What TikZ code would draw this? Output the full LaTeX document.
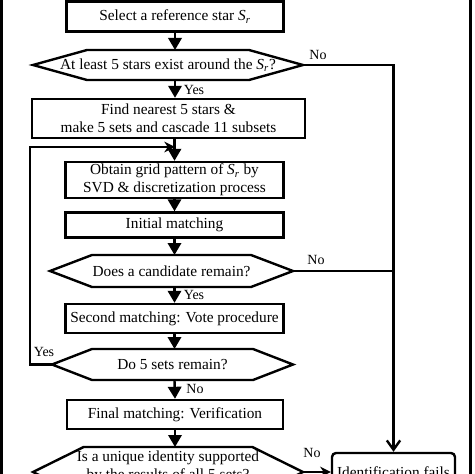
\documentclass[tikz,border=0pt]{standalone}
\usepackage{fontspec}
\setmainfont{Liberation Serif}
\usetikzlibrary{arrows.meta}
\newcommand{\Sr}{\textit{S}\textsubscript{\textit{r}}}
\newcommand{\hexframe}[2]{\draw[hexline] (#1.west) -- ([xshift=#2]#1.north west) -- ([xshift=-#2]#1.north east) -- (#1.east) -- ([xshift=-#2]#1.south east) -- ([xshift=#2]#1.south west) -- cycle}

\begin{document}
\begin{tikzpicture}[
        x=0.75pt, y=-0.75pt,
        every node/.style={font=\fontsize{11.5}{13.5}\selectfont},
        proc/.style={rectangle,draw=black,line width=1.8pt,align=center,inner sep=0pt},
        hexbox/.style={rectangle,inner sep=0pt,outer sep=0pt,align=center},
        hexline/.style={line width=1.8pt,line join=miter},
        flow/.style={line width=1.8pt,-{Triangle[width=10pt,length=9pt]}},
        back/.style={line width=1.8pt,-{Stealth[width=8pt,length=8pt]}},
        failarr/.style={line width=1.8pt,-{Straight Barb[width=10pt,length=7pt]}},
        lab/.style={inner sep=0pt,font=\fontsize{10.5}{12}\selectfont}
      ]
      \useasboundingbox (0,0) rectangle (474,474);
      \clip (0,0) rectangle (474,474);

      % Outer frame of the figure
      \draw[line width=2.2pt] (1.5,-10) rectangle (470.5,500);

      % Boxes and decisions of the main column, top to bottom
      \node(sel)[proc,minimum width=162.75pt,minimum height=22.5pt] at (175,16.5) {Select a reference star \Sr};
      \node(d1)[hexbox,minimum width=202.5pt,minimum height=22.5pt] at (168,65) {At least 5 stars exist around the \Sr?};
      \hexframe{d1}{40.5pt};
      \node(sets)[proc,minimum width=204.75pt,minimum height=29.25pt] at (168.5,118.5) {Find nearest 5 stars \&\\make 5 sets and cascade 11 subsets};
      \node(grid)[proc,minimum width=163.5pt,minimum height=27pt] at (174.5,180) {Obtain grid pattern of \Sr\ by\\SVD \& discretization process};
      \node(init)[proc,minimum width=163.5pt,minimum height=18.75pt] at (174.5,225) {Initial matching};
      \node(d2)[hexbox,minimum width=182.25pt,minimum height=24pt] at (171.5,271) {Does a candidate remain?};
      \hexframe{d2}{31.5pt};
      \node(vote)[proc,minimum width=163.5pt,minimum height=21.75pt] at (174.5,318.5) {Second matching: Vote procedure};
      \node(d3)[hexbox,minimum width=180.75pt,minimum height=23.25pt] at (172.5,364.5) {Do 5 sets remain?};
      \hexframe{d3}{30pt};
      \node(verif)[proc,minimum width=162pt,minimum height=21.75pt] at (175,414.5) {Final matching: Verification};
      \node(d4)[hexbox,minimum width=202.5pt,minimum height=37.5pt] at (168,472) {};
      \hexframe{d4}{38pt};
      \node(d4txt)[align=center] at (168,467) {Is a unique identity supported\\by the results of all 5 sets?};

      % Failure box on the right
      \node(fail)[proc,rounded corners=3pt,minimum width=92.25pt,minimum height=28.5pt] at (393.5,472) {Identification fails};

      % Helper points for the loop back
      \coordinate (merge) at (175,147);
      \coordinate (loopx) at (30,0);

      % Main flow
      \draw[flow] (sel.south) -- (sel.south |- d1.north);
      \draw[flow] (sel.south |- d1.south) -- (sel.south |- sets.north);
      \draw[flow] (grid.north |- sets.south) -- (grid.north);
      \draw[flow] (grid.south) -- (init.north);
      \draw[flow] (init.south) -- (init.south |- d2.north);
      \draw[flow] (init.south |- d2.south) -- (vote.north);
      \draw[flow] (vote.south) -- (vote.south |- d3.north);
      \draw[flow] (vote.south |- d3.south) -- (verif.north);
      \draw[flow] (verif.south) -- (verif.south |- d4.north);

      % Loop back when 5 sets remain
      \draw[back] (d3.west) -- (d3.west -| loopx) |- (merge);

      % Failure branches
      \draw[failarr] (d1.east) -| (fail.north);
      \draw[hexline] (d2.east) -- (d2.east -| fail.north);
      \draw[back] (d4.east) -- (d4.east -| fail.west);

      % Yes / No labels
      \node(no1)[lab] at (318,55) {No};
      \node(yes1)[lab] at (194,90) {Yes};
      \node(no2)[lab] at (316,260) {No};
      \node(yes2)[lab] at (194,295) {Yes};
      \node(yes3)[lab] at (44,352) {Yes};
      \node(no3)[lab] at (195,389) {No};
      \node(no4)[lab] at (312,453) {No};
    \end{tikzpicture}
\end{document}
